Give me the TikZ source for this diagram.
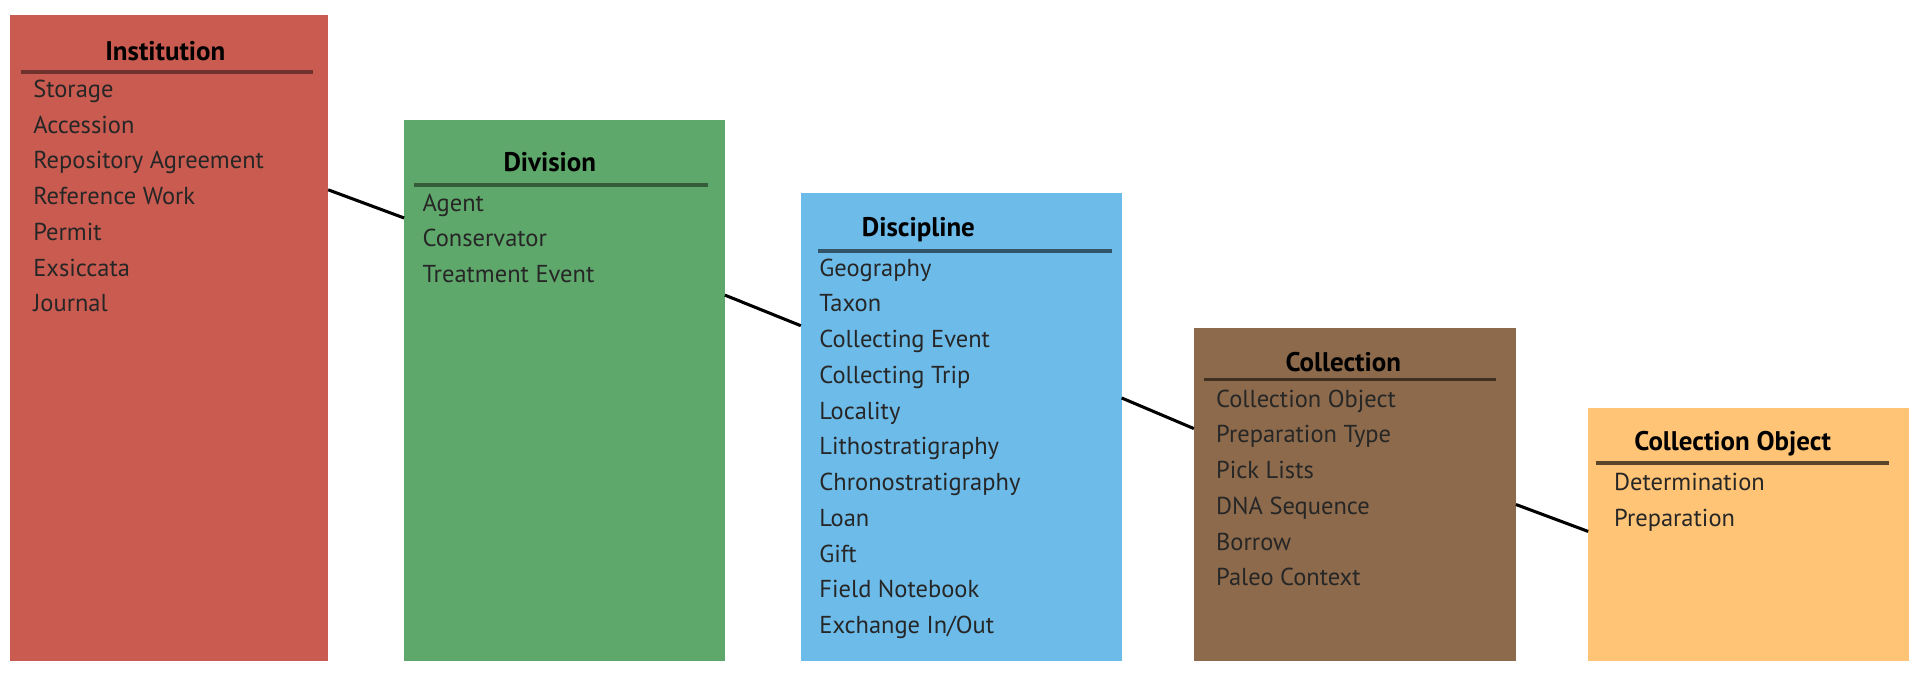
\documentclass[tikz,border=0pt]{standalone}
\usepackage{fontspec}
\setmainfont{PT Sans}
\begin{document}
\begin{tikzpicture}[x=1pt,y=-1pt,
 box/.style={anchor=north west,inner sep=0pt,outer sep=0pt},
 ttl/.style={font=\fontsize{22}{26}\selectfont\bfseries,anchor=base},
 items/.style={font=\fontsize{20}{29.2}\selectfont,anchor=north west,align=left,inner sep=0pt,text=black!85},
 conn/.style={line width=2.5pt,black}]
\useasboundingbox (0,0) rectangle (1568,552);
\definecolor{cA}{HTML}{C95B50}\definecolor{cB}{HTML}{5FA86B}\definecolor{cC}{HTML}{6DBBE9}
\definecolor{cD}{HTML}{8C6A4B}\definecolor{cE}{HTML}{FFC476}
% boxes
\node[box,fill=cA,minimum width=260pt,minimum height=528pt] (inst) at (8,12) {};
\node[box,fill=cB,minimum width=262pt,minimum height=442pt] (div) at (330,98) {};
\node[box,fill=cC,minimum width=262pt,minimum height=382pt] (disc) at (654,158) {};
\node[box,fill=cD,minimum width=263pt,minimum height=272pt] (coll) at (975,268) {};
\node[box,fill=cE,minimum width=262pt,minimum height=207pt] (cobj) at (1297,333) {};
% titles
\node[ttl] (t1) at (135,49) {Institution};
\draw[line width=3pt,cA!55!black] (17,59) -- (256,59);
\node[ttl] (t2) at (449,140) {Division};
\draw[line width=3pt,cB!55!black] (338,151) -- (578,151);
\node[ttl] (t3) at (750,193) {Discipline};
\draw[line width=3pt,cC!45!black] (668,205) -- (908,205);
\node[ttl] (t4) at (1097,303) {Collection};
\draw[line width=3pt,cD!45!black] (983,310) -- (1222,310);
\node[ttl] (t5) at (1415,368) {Collection Object};
\draw[line width=3pt,cE!35!black] (1303,378) -- (1543,378);
% items
\node[items] (i1) at (27,65) {Storage\\Accession\\Repository Agreement\\Reference Work\\Permit\\Exsiccata\\Journal};
\node[items] (i2) at (345,158) {Agent\\Conservator\\Treatment Event};
\node[items] (i3) at (669,211) {Geography\\Taxon\\Collecting Event\\Collecting Trip\\Locality\\Lithostratigraphy\\Chronostratigraphy\\Loan\\Gift\\Field Notebook\\Exchange In/Out};
\node[items] (i4) at (993,318) {Collection Object\\Preparation Type\\Pick Lists\\DNA Sequence\\Borrow\\Paleo Context};
\node[items] (i5) at (1318,386) {Determination\\Preparation};
% connectors
\draw[conn] (inst.east |- 0,155) -- (div.west |- 0,178);
\draw[conn] (div.east |- 0,241) -- (disc.west |- 0,266);
\draw[conn] (disc.east |- 0,325) -- (coll.west |- 0,350);
\draw[conn] (coll.east |- 0,412) -- (cobj.west |- 0,434);
\end{tikzpicture}
\end{document}
